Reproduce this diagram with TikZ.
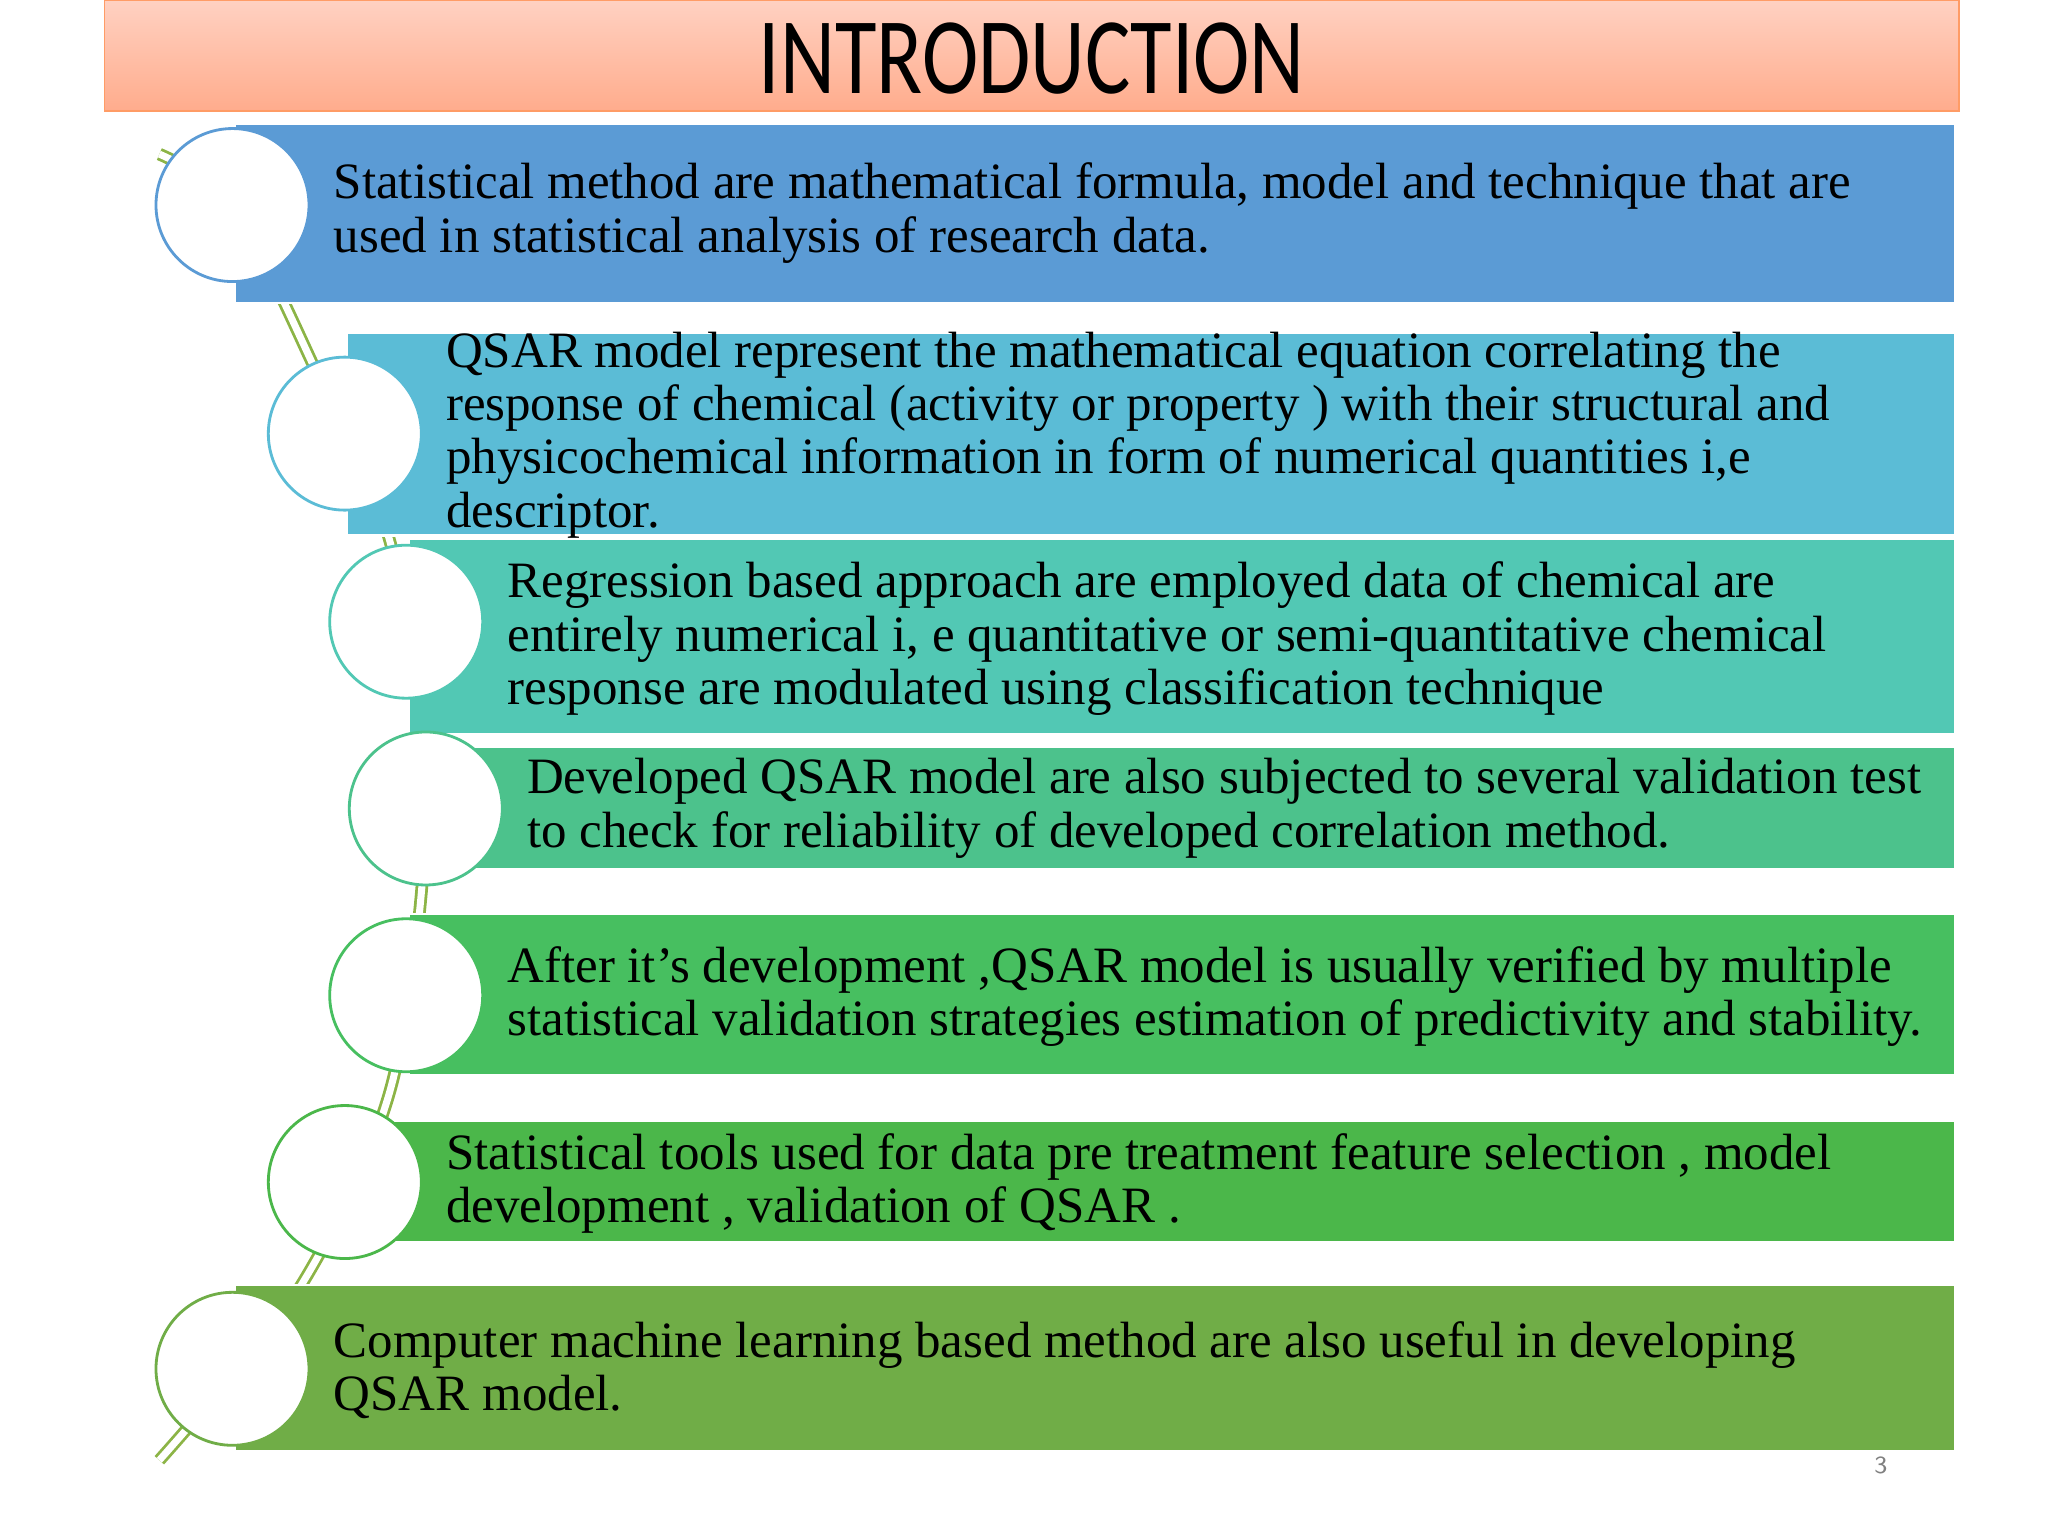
\documentclass[tikz,border=0pt]{standalone}
\usepackage{fontspec}
\setmainfont{Liberation Serif}
\newfontfamily\titlefont{Carlito}
\begin{document}
\begin{tikzpicture}[x=0.013061cm,y=-0.013061cm,
  bar/.style={draw=white,line width=0.6pt},
  circ/.style={circle,fill=white,line width=0.8pt,minimum size=1.53cm,inner sep=0pt},
  txt/.style={anchor=west,align=left,inner sep=0pt,font=\fontsize{14.5}{15.2}\selectfont}]
\useasboundingbox (0,0) rectangle (1568,1176);
\fill[white] (0,0) rectangle (1568,1176);
\shade[top color=orange!20!pink!60!white,bottom color=orange!55!red!45!white,draw=orange!70!red!60]
  (80,0) rectangle (1500,85);
\node[font=\titlefont\fontsize{31}{32}\selectfont,xscale=0.78] (title) at (790,45) {INTRODUCTION};
\draw[double=white,draw={rgb,255:red,140;green,180;blue,70},double distance=2pt,line width=0.8pt]
 plot[smooth,tension=0.5] coordinates {(122,118) (178,157) (240,280) (300,420) (326,619) (300,830) (230,985) (122,1118)};
\fill[bar,fill={rgb,255:red,91;green,155;blue,213}] (180,95) rectangle (1497,232);
\fill[bar,fill={rgb,255:red,91;green,188;blue,214}] (266,255) rectangle (1497,410);
\fill[bar,fill={rgb,255:red,82;green,200;blue,180}] (313,413) rectangle (1497,562);
\fill[bar,fill={rgb,255:red,76;green,194;blue,140}] (328,572) rectangle (1497,665);
\fill[bar,fill={rgb,255:red,71;green,191;blue,96}] (313,700) rectangle (1497,823);
\fill[bar,fill={rgb,255:red,75;green,183;blue,74}] (266,858) rectangle (1497,951);
\fill[bar,fill={rgb,255:red,112;green,173;blue,71}] (180,984) rectangle (1497,1111);
\node[circ,draw={rgb,255:red,91;green,155;blue,213}] (c1) at (178,157) {};
\node[circ,draw={rgb,255:red,91;green,188;blue,214}] (c2) at (264,332) {};
\node[circ,draw={rgb,255:red,82;green,200;blue,180}] (c3) at (311,476) {};
\node[circ,draw={rgb,255:red,76;green,194;blue,140}] (c4) at (326,619) {};
\node[circ,draw={rgb,255:red,71;green,191;blue,96}] (c5) at (311,762) {};
\node[circ,draw={rgb,255:red,75;green,183;blue,74}] (c6) at (264,905) {};
\node[circ,draw={rgb,255:red,112;green,173;blue,71}] (c7) at (178,1048) {};
\node[txt] (t1) at (255,163) {Statistical method are mathematical formula, model and technique that are\\used in statistical analysis of research data.};
\node[txt] (t2) at (341,333) {QSAR model represent the mathematical equation correlating the\\response of chemical (activity or property ) with their structural and\\physicochemical information in form of numerical quantities i,e\\descriptor.};
\node[txt] (t3) at (388,489) {Regression based approach are employed data of chemical are\\entirely numerical i, e quantitative or semi-quantitative chemical\\response are modulated using classification technique};
\node[txt] (t4) at (403,619) {Developed QSAR model are also subjected to several validation test\\to check for reliability of developed correlation method.};
\node[txt] (t5) at (388,763) {After it’s development ,QSAR model is usually verified by multiple\\statistical validation strategies estimation of predictivity and stability.};
\node[txt] (t6) at (341,906) {Statistical tools used for data pre treatment feature selection , model\\development , validation of QSAR .};
\node[txt] (t7) at (255,1049) {Computer machine learning based method are also useful in developing\\QSAR model.};
\node[font=\sffamily\scriptsize,text=gray] (pg) at (1440,1122) {3};
\end{tikzpicture}
\end{document}
